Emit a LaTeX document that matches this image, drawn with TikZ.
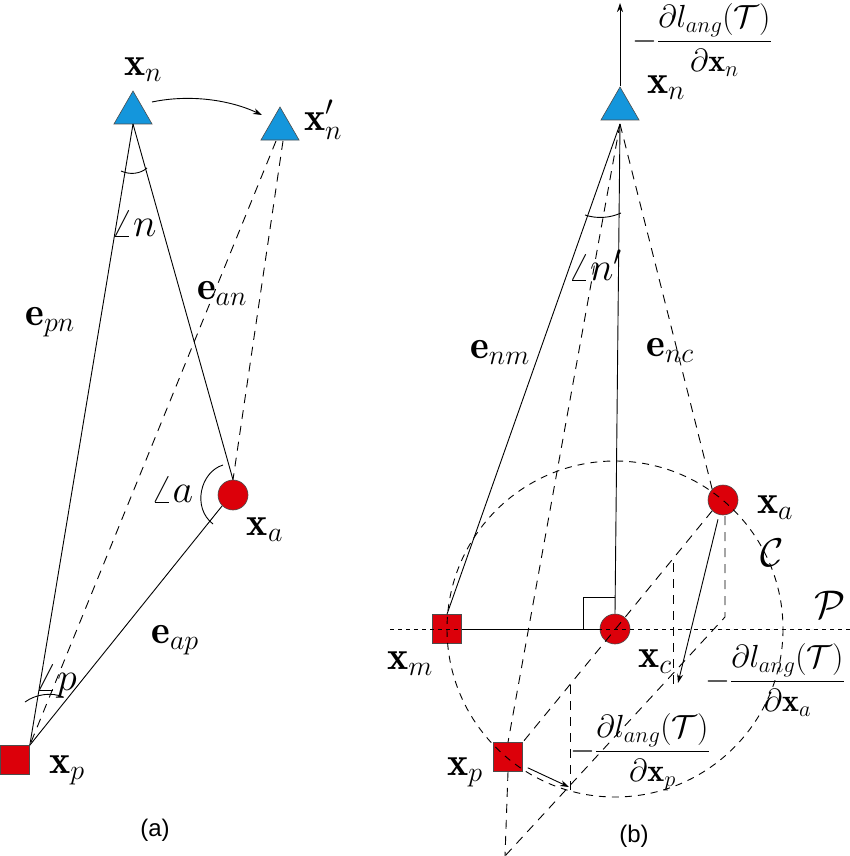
\RequirePackage{fix-cm}
\documentclass[tikz,border=0pt]{standalone}
\usepackage{amsmath}
\usepackage{fontspec}
\newfontfamily\hv{Liberation Sans}
\usetikzlibrary{shapes.geometric,arrows.meta}
\definecolor{tri}{RGB}{20,150,220}
\definecolor{pt}{RGB}{220,0,10}
\begin{document}
\begin{tikzpicture}[x=1pt,y=-1pt,line width=0.9pt,
  lbl/.style={font=\fontsize{40}{46}\selectfont,inner sep=0pt},
  frac/.style={font=\fontsize{32}{38}\selectfont,inner sep=0pt},
  tri/.style={regular polygon,regular polygon sides=3,fill=tri,draw=black!70,line width=0.6pt,minimum size=44pt,inner sep=0pt},
  circ/.style={circle,fill=pt,draw=black!70,line width=0.6pt,minimum size=30pt,inner sep=0pt},
  sq/.style={rectangle,fill=pt,draw=black!70,line width=0.6pt,minimum size=29pt,inner sep=0pt},
  dsh/.style={dash pattern=on 9pt off 7pt},
  arr/.style={-{Stealth[length=9pt,width=6pt]}}]
\useasboundingbox (0,0) rectangle (850,856);
% ---------- (a)
\node[tri] (na) at (133,113) {};
\node[tri] (nb) at (280,129) {};
\node[circ] (xa) at (233,495) {};
\node[sq] (xp) at (15,760) {};
\coordinate (nab) at (133,124);
\draw (nab) -- (xp.north east);
\draw (nab) -- (xa.north);
\draw (xa.south west) -- (xp.north east);
\draw[dsh] (276,141) -- (xp.north east);
\draw[dsh] (283,141) -- (xa.north);
\draw[arr] (152,102) .. controls (190,94) and (230,100) .. (262,115);
\draw (121,171) .. controls (130,175) and (140,174) .. (147,168);
\draw (223,465) .. controls (200,472) and (192,508) .. (213,524);
\draw (25,702) .. controls (36,694) and (52,692) .. (63,697);
\node[lbl] at (143,70) {$\mathbf{x}_n$};
\node[lbl] at (323,120) {$\mathbf{x}'_n$};
\node[lbl] at (134,224) {$\angle n$};
\node[lbl] at (222,293) {$\mathbf{e}_{an}$};
\node[lbl] at (50,322) {$\mathbf{e}_{pn}$};
\node[lbl] at (172,490) {$\angle a$};
\node[lbl] at (265,530) {$\mathbf{x}_a$};
\node[lbl] at (175,640) {$\mathbf{e}_{ap}$};
\node[lbl] at (56,682) {$\angle p$};
\node[lbl] at (67,770) {$\mathbf{x}_p$};
\node[font=\fontsize{24}{28}\selectfont\hv] at (155,830) {(a)};
% ---------- (b)
\node[tri] (bn) at (620,109) {};
\node[circ] (bc) at (615,629) {};
\node[circ] (ba) at (723,500) {};
\node[sq] (bm) at (447,629) {};
\node[sq] (bp) at (508,757) {};
\coordinate (bnb) at (620,124);
\coordinate (top) at (620,3);
\draw[arr] (620,86) -- (top);
\draw[dash pattern=on 4pt off 4pt] (390,629) -- (850,629);
\draw (bm.east) -- (bc.west);
\draw (bnb) -- (bm.north);
\draw (bnb) -- (bc.north);
\draw (583,629) -- (583,597) -- (615,597);
\draw[dsh] (bnb) -- (ba.north west);
\draw[dsh] (bnb) -- (bp.north);
\draw[dsh] (ba.south west) -- (bp.north east);
\draw[dsh] (bp.south) -- (505,856);
\draw[dsh] (725,516) -- (725,617) -- (505,856);
\draw[dash pattern=on 7pt off 6pt] (bc) circle (168);
\draw[arr] (ba.south) ++(-5,4) -- (678,683);
\draw[dsh] (673,563) -- (673,690);
\draw[arr] (bp.south east) ++(5,-4) -- (569,787);
\draw[dsh] (570,685) -- (570,790);
\draw (585,215) .. controls (597,219) and (610,218) .. (621,213);
\node[frac] at (702,40) {$-\dfrac{\partial l_{ang}(\mathcal{T})}{\partial\mathbf{x}_n}$};
\node[lbl] at (666,88) {$\mathbf{x}_n$};
\node[lbl] at (595,265) {$\angle n'$};
\node[lbl] at (500,352) {$\mathbf{e}_{nm}$};
\node[lbl] at (670,350) {$\mathbf{e}_{nc}$};
\node[lbl] at (775,508) {$\mathbf{x}_a$};
\node[lbl] at (772,553) {$\mathcal{C}$};
\node[lbl] at (830,605) {$\mathcal{P}$};
\node[lbl] at (410,664) {$\mathbf{x}_m$};
\node[lbl] at (655,662) {$\mathbf{x}_c$};
\node[frac] at (775,680) {$-\dfrac{\partial l_{ang}(\mathcal{T})}{\partial\mathbf{x}_a}$};
\node[lbl] at (465,772) {$\mathbf{x}_p$};
\node[frac] at (640,752) {$-\dfrac{\partial l_{ang}(\mathcal{T})}{\partial\mathbf{x}_p}$};
\node[font=\fontsize{24}{28}\selectfont\hv] at (634,836) {(b)};
\end{tikzpicture}
\end{document}
